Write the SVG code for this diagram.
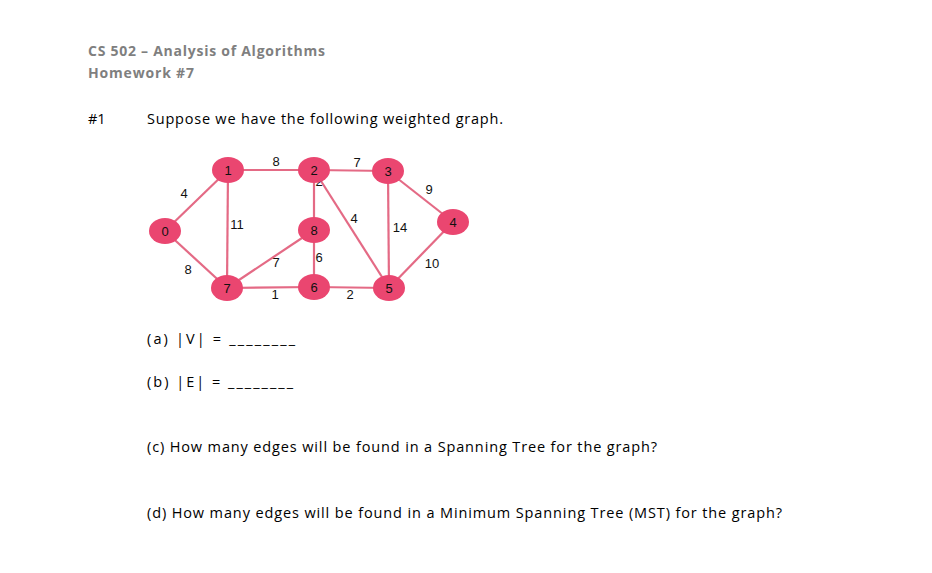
<svg xmlns="http://www.w3.org/2000/svg" width="932" height="573" viewBox="0 0 932 573">
<style>
.t{font-family:"Open Sans","Liberation Sans",sans-serif;font-size:14.5px;fill:#000}
.h{font-family:"Open Sans","Liberation Sans",sans-serif;font-size:14px;font-weight:bold;fill:#7f7f7f}
.e{stroke:#e46a85;stroke-width:2.2;fill:none}
.n ellipse{fill:#ea4670}
.n text{font-family:"Liberation Sans",sans-serif;font-size:13px;fill:#111;text-anchor:middle}
.w{font-family:"Liberation Sans",sans-serif;font-size:13px;fill:#111;text-anchor:middle}
</style>
<rect width="932" height="573" fill="#fff"/>
<text class="h" x="88" y="56" textLength="237">CS 502 – Analysis of Algorithms</text>
<text class="h" x="88" y="78" textLength="106">Homework #7</text>
<text class="t" x="88" y="124">#1</text>
<text class="t" x="147" y="124" textLength="356">Suppose we have the following weighted graph.</text>
<g id="connectors">
<line class="e" x1="165" y1="231" x2="228" y2="170"/>
<line class="e" x1="165" y1="231" x2="227" y2="288"/>
<line class="e" x1="228" y1="170" x2="314" y2="170"/>
<line class="e" x1="228" y1="170" x2="227" y2="288"/>
<line class="e" x1="314" y1="170" x2="388" y2="171"/>
<line class="e" x1="314" y1="170" x2="314" y2="230"/>
<line class="e" x1="314" y1="170" x2="389" y2="288"/>
<line class="e" x1="388" y1="171" x2="453" y2="222"/>
<line class="e" x1="388" y1="171" x2="389" y2="288"/>
<line class="e" x1="453" y1="222" x2="389" y2="288"/>
<line class="e" x1="314" y1="230" x2="227" y2="288"/>
<line class="e" x1="314" y1="230" x2="314" y2="287"/>
<line class="e" x1="227" y1="288" x2="314" y2="287"/>
<line class="e" x1="314" y1="287" x2="389" y2="288"/>
</g>
<g id="weights">
<text class="w" x="184" y="198">4</text>
<text class="w" x="188" y="274">8</text>
<text class="w" x="276" y="166">8</text>
<text class="w" x="237" y="229">11</text>
<text class="w" x="357" y="167">7</text>
<text class="w" x="319" y="186">2</text>
<text class="w" x="354" y="223">4</text>
<text class="w" x="429" y="194">9</text>
<text class="w" x="400" y="232">14</text>
<text class="w" x="432" y="268">10</text>
<text class="w" x="276" y="267">7</text>
<text class="w" x="319" y="262">6</text>
<text class="w" x="275" y="299">1</text>
<text class="w" x="350" y="299">2</text>
</g>
<g id="node0" class="n"><ellipse cx="165" cy="231" rx="16" ry="13"/><text x="165" y="236">0</text></g>
<g id="node1" class="n"><ellipse cx="228" cy="170" rx="16" ry="13"/><text x="228" y="175">1</text></g>
<g id="node2" class="n"><ellipse cx="314" cy="170" rx="16" ry="13"/><text x="314" y="175">2</text></g>
<g id="node3" class="n"><ellipse cx="388" cy="171" rx="16" ry="13"/><text x="388" y="176">3</text></g>
<g id="node4" class="n"><ellipse cx="453" cy="222" rx="16" ry="13"/><text x="453" y="227">4</text></g>
<g id="node8" class="n"><ellipse cx="314" cy="230" rx="16" ry="13"/><text x="314" y="235">8</text></g>
<g id="node7" class="n"><ellipse cx="227" cy="288" rx="16" ry="13"/><text x="227" y="293">7</text></g>
<g id="node6" class="n"><ellipse cx="314" cy="287" rx="16" ry="13"/><text x="314" y="292">6</text></g>
<g id="node5" class="n"><ellipse cx="389" cy="288" rx="16" ry="13"/><text x="389" y="293">5</text></g>
<text class="t" x="147" y="344" textLength="148">(a)  |V| = ________</text>
<text class="t" x="147" y="387" textLength="146">(b)  |E| = ________</text>
<text class="t" x="147" y="452" textLength="510">(c)  How many edges will be found in a Spanning Tree for the graph?</text>
<text class="t" x="147" y="518" textLength="635">(d)  How many edges will be found in a Minimum Spanning Tree (MST) for the graph?</text>
</svg>
